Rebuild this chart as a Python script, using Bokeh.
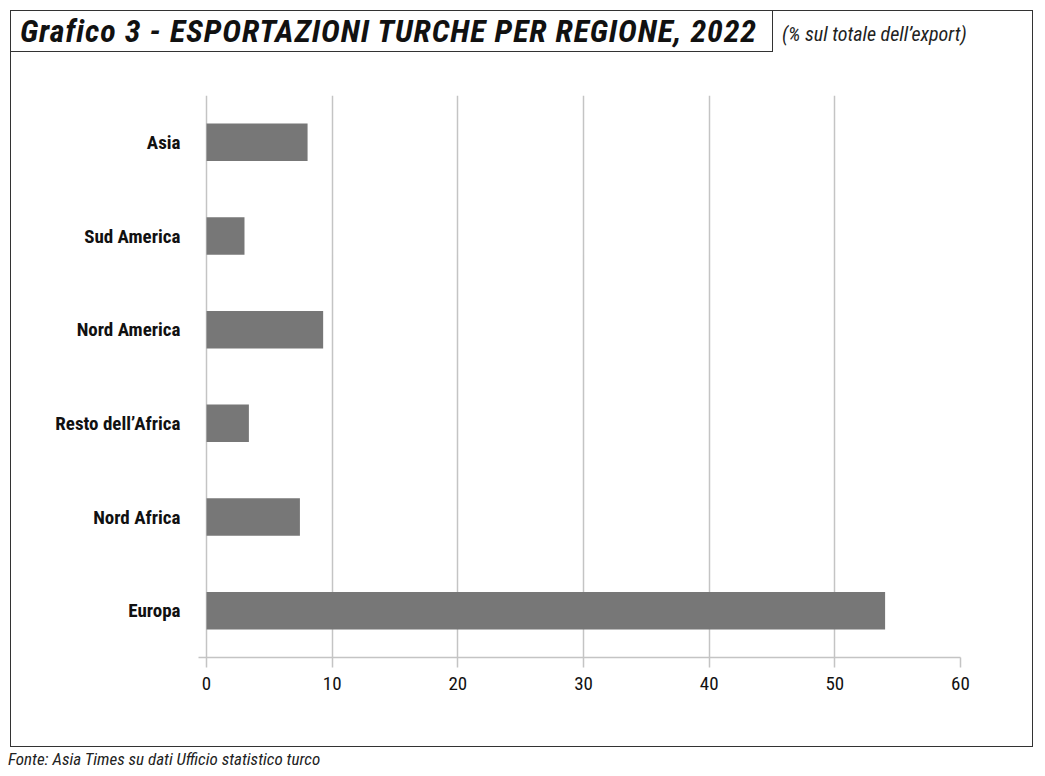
from bokeh.plotting import figure
from bokeh.models import Range1d, FactorRange, FixedTicker, Div
from bokeh.layouts import column, row
from bokeh.embed import file_html
from bokeh.resources import INLINE

# ---- data ----
regions = ["Europa", "Nord Africa", "Resto dell\u2019Africa", "Nord America", "Sud America", "Asia"]
shares = [54.0, 7.43, 3.37, 9.28, 3.02, 8.04]
x_ticks = [0, 10, 20, 30, 40, 50, 60]

title_text = "Grafico 3 - ESPORTAZIONI TURCHE PER REGIONE, 2022"
subtitle_text = "(% sul totale dell\u2019export)"
source_text = "Fonte: Asia Times su dati Ufficio statistico turco"

FONT = "Roboto Condensed"
CSS_FONT = "'Roboto Condensed', 'Open Sans', sans-serif"

FIG_W, FIG_H = 1021, 694

p = figure(width=FIG_W, height=FIG_H, y_range=FactorRange(*regions),
           x_range=Range1d(-0.64, 60),
           output_backend="svg", toolbar_location=None,
           min_border_left=187, min_border_right=72,
           min_border_top=43, min_border_bottom=89)
p.outline_line_color = None
p.background_fill_color = "white"
p.border_fill_color = "white"

p.hbar(y=regions, right=shares, left=0, height=0.4, color="#777777", line_color=None)

# x axis
p.xaxis.ticker = FixedTicker(ticks=x_ticks)
p.xaxis.axis_line_color = "#c4c4c4"
p.xaxis.axis_line_width = 1.5
p.xaxis.major_tick_line_color = "#c4c4c4"
p.xaxis.major_tick_line_width = 1.5
p.xaxis.major_tick_in = 0
p.xaxis.major_tick_out = 10
p.xaxis.minor_tick_line_color = None
p.xaxis.major_label_text_font = FONT
p.xaxis.major_label_text_font_size = "19px"
p.xaxis.major_label_text_color = "#111111"
p.xaxis.major_label_standoff = 9

p.xgrid.ticker = FixedTicker(ticks=x_ticks)
p.xgrid.grid_line_color = "#c4c4c4"
p.xgrid.grid_line_width = 1.5
p.ygrid.grid_line_color = None

# y axis
p.yaxis.axis_line_color = None
p.yaxis.major_tick_line_color = None
p.yaxis.minor_tick_line_color = None
p.yaxis.major_label_text_font = FONT
p.yaxis.major_label_text_font_style = "bold"
p.yaxis.major_label_text_font_size = "19px"
p.yaxis.major_label_text_color = "#111111"
p.yaxis.major_label_standoff = 12

title_div = Div(text=title_text, width=762, height=41, margin=0, styles={
    "font-family": CSS_FONT, "font-weight": "bold",
    "font-style": "italic", "font-size": "32px", "line-height": "41px",
    "letter-spacing": "0.9px",
    "color": "#111111", "padding-left": "9px", "box-sizing": "border-box",
    "border-right": "1.5px solid #333333", "border-bottom": "1.5px solid #333333",
    "white-space": "nowrap", "overflow": "hidden"})
sub_div = Div(text=subtitle_text, width=259, height=41, margin=0, styles={
    "font-family": CSS_FONT, "font-style": "italic",
    "font-size": "20px", "line-height": "47px", "color": "#222222",
    "padding-left": "9px", "box-sizing": "border-box", "white-space": "nowrap"})
header = row(title_div, sub_div, spacing=0, margin=0)

framed = column(header, p, spacing=0, margin=(10, 0, 0, 10),
                styles={"border": "1.5px solid #333333"})

source_div = Div(text=source_text, width=1045, height=26, margin=0, styles={
    "font-family": CSS_FONT, "font-style": "italic",
    "font-size": "17px", "line-height": "24px", "color": "#222222",
    "padding-left": "8px", "box-sizing": "border-box", "white-space": "nowrap"})

root = column(framed, source_div, spacing=0, margin=0)

open("out.html", "w").write(file_html(root, INLINE))
